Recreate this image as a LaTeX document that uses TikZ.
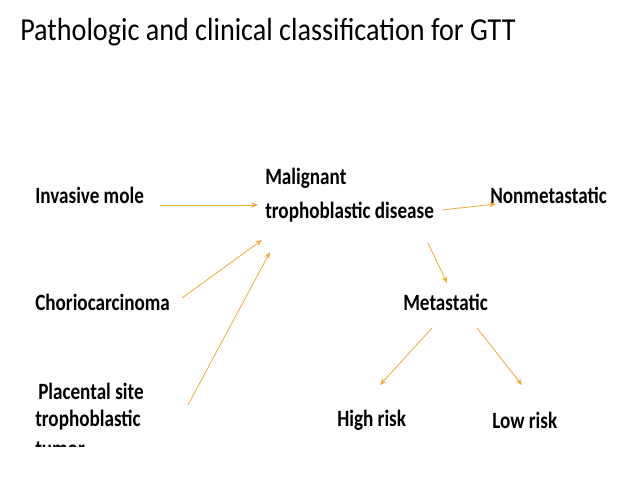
\documentclass[tikz,border=0pt]{standalone}
\usepackage{fontspec}
\setmainfont{Carlito}
\usetikzlibrary{arrows.meta}
\newcommand{\nrw}[1]{\scalebox{0.82}[1]{\fontsize{17.5}{20}\selectfont\bfseries #1}}
\begin{document}
\begin{tikzpicture}[x=0.75pt,y=-0.75pt,
  lbl/.style={anchor=west,inner sep=0pt},
  arr/.style={draw={rgb,255:red,240;green,170;blue,60},line width=0.6pt,-{Stealth[length=5pt,width=4pt]}}]
\useasboundingbox (0,0) rectangle (638,478);
\fill[white] (0,0) rectangle (638,478);
\node[anchor=west,inner sep=0pt] (title) at (20,32) {\scalebox{0.88}[1]{\fontsize{24}{26}\selectfont Pathologic and clinical classification for GTT}};
\begin{scope}
\clip (0,0) rectangle (638,446);
\node[lbl] (inv) at (35,195) {\nrw{Invasive mole}};
\node[lbl] (mal1) at (265,178) {\nrw{Malignant}};
\node[lbl] (mal) at (265,212) {\nrw{trophoblastic disease}};
\node[lbl] (non) at (490,195) {\nrw{Nonmetastatic}};
\node[lbl] (cho) at (35,302) {\nrw{Choriocarcinoma}};
\node[lbl] (met) at (403,302) {\nrw{Metastatic}};
\node[lbl] (pst1) at (38,391) {\nrw{Placental site}};
\node[lbl] (pst2) at (35,420) {\nrw{trophoblastic}};
\node[lbl] (pst3) at (35,449) {\nrw{tumor}};
\node[lbl] (hr) at (337,420) {\nrw{High risk}};
\node[lbl] (lr) at (492,420) {\nrw{Low risk}};
\end{scope}
\coordinate (a1) at (160,205); \coordinate (b1) at (258,205);
\coordinate (a2) at (182,298); \coordinate (b2) at (262,240);
\coordinate (a3) at (188,405); \coordinate (b3) at (270,252);
\coordinate (a4) at (442,210); \coordinate (b4) at (496,204);
\coordinate (a5) at (428,243); \coordinate (b5) at (447,283);
\coordinate (a6) at (432,328); \coordinate (b6) at (380,385);
\coordinate (a7) at (477,328); \coordinate (b7) at (522,385);
\foreach \i in {1,...,7} \draw[arr] (a\i) -- (b\i);
\end{tikzpicture}
\end{document}
